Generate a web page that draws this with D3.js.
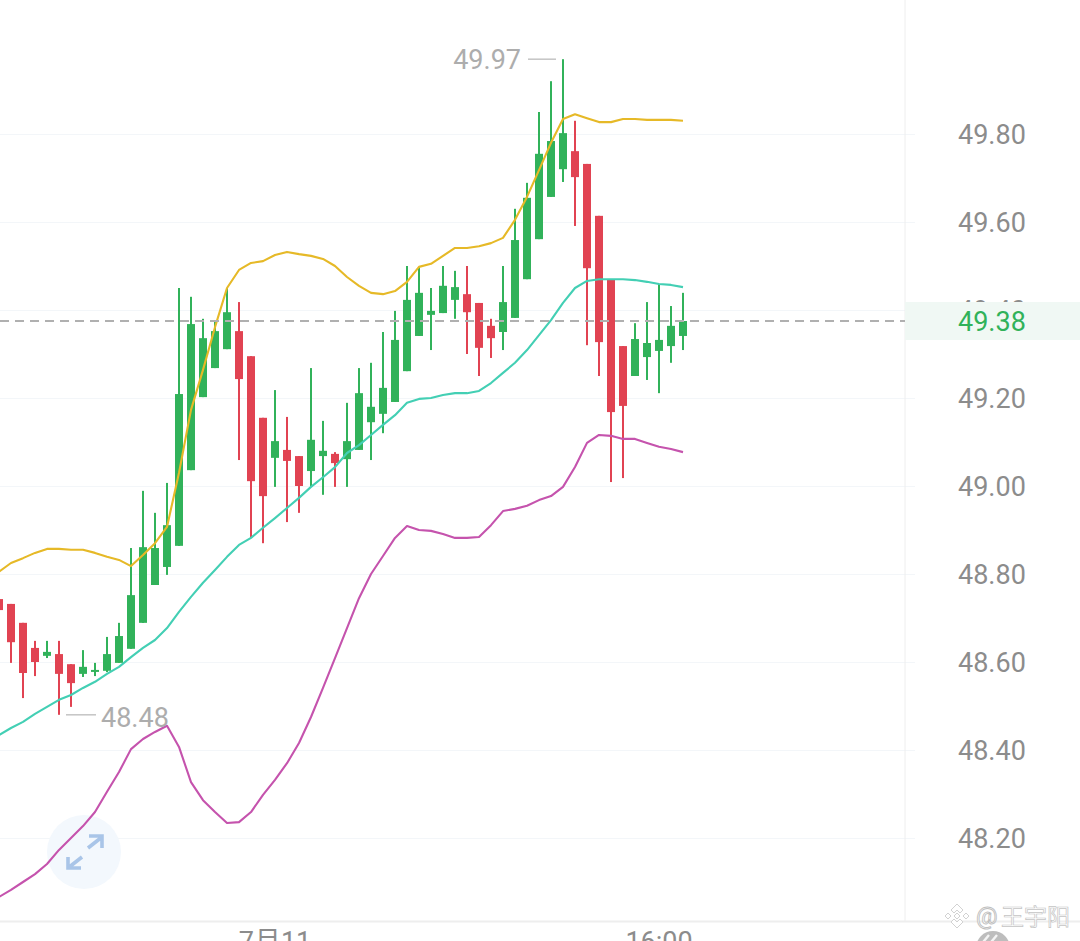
<!DOCTYPE html>
<html lang="zh">
<head>
<meta charset="utf-8">
<title>K线图</title>
<script src="https://cdn.jsdelivr.net/npm/d3@7/dist/d3.min.js"></script>
<style>
  html, body { margin: 0; padding: 0; background: #fff; overflow: hidden; }
  svg { display: block; font-family: Roboto, "Noto Sans", sans-serif; }
</style>
</head>
<body>
<svg id="chart" width="1080" height="941"></svg>
<script>
// Candles, oldest first
const opens = [48.743,48.732,48.689,48.632,48.614,48.618,48.595,48.573,48.580,48.580,48.598,48.630,48.689,48.775,48.816,48.864,49.036,49.202,49.268,49.311,49.352,49.295,49.155,49.064,49.082,49.068,49.034,49.068,49.073,49.061,49.082,49.145,49.164,49.191,49.261,49.341,49.389,49.393,49.423,49.436,49.416,49.364,49.350,49.382,49.470,49.561,49.657,49.720,49.761,49.732,49.614,49.470,49.318,49.250,49.293,49.307,49.318,49.341];
const highs = [48.743,48.732,48.689,48.648,48.648,48.648,48.595,48.627,48.598,48.657,48.689,48.859,48.989,48.939,49.007,49.450,49.430,49.380,49.377,49.450,49.418,49.295,49.155,49.218,49.157,49.068,49.268,49.148,49.077,49.189,49.268,49.280,49.350,49.398,49.500,49.498,49.450,49.500,49.489,49.500,49.416,49.380,49.500,49.630,49.689,49.850,49.920,49.970,49.830,49.732,49.614,49.470,49.318,49.370,49.418,49.459,49.409,49.439];
const lows = [48.718,48.598,48.518,48.568,48.609,48.480,48.498,48.566,48.568,48.577,48.598,48.630,48.689,48.775,48.798,48.864,49.036,49.202,49.268,49.311,49.059,48.882,48.870,48.998,48.918,48.939,48.998,48.980,48.998,48.998,49.082,49.059,49.120,49.191,49.261,49.341,49.309,49.393,49.380,49.300,49.250,49.291,49.309,49.382,49.470,49.561,49.657,49.691,49.591,49.320,49.250,49.009,49.018,49.250,49.241,49.211,49.280,49.309];
const closes = [48.718,48.645,48.575,48.600,48.623,48.573,48.552,48.589,48.582,48.618,48.659,48.752,48.861,48.859,48.911,49.209,49.368,49.336,49.352,49.395,49.243,49.011,48.977,49.102,49.057,49.000,49.105,49.080,49.052,49.102,49.211,49.180,49.223,49.332,49.423,49.439,49.398,49.455,49.452,49.395,49.314,49.336,49.418,49.559,49.655,49.755,49.784,49.802,49.702,49.495,49.327,49.168,49.182,49.334,49.325,49.332,49.364,49.375];

// Bollinger bands at each candle
const upperBand = [48.805,48.825,48.836,48.848,48.857,48.857,48.855,48.855,48.848,48.839,48.832,48.818,48.843,48.870,48.907,49.030,49.173,49.264,49.361,49.450,49.491,49.507,49.511,49.525,49.532,49.527,49.523,49.516,49.500,49.475,49.455,49.439,49.436,49.443,49.464,49.498,49.505,49.523,49.541,49.541,49.545,49.552,49.564,49.605,49.657,49.718,49.780,49.834,49.845,49.836,49.827,49.827,49.834,49.834,49.832,49.832,49.832,49.830];
const middleBand = [48.434,48.450,48.464,48.482,48.498,48.514,48.525,48.541,48.555,48.573,48.589,48.611,48.632,48.650,48.677,48.714,48.748,48.780,48.809,48.839,48.866,48.882,48.905,48.927,48.950,48.973,48.998,49.020,49.043,49.075,49.093,49.116,49.139,49.161,49.189,49.198,49.200,49.207,49.211,49.211,49.216,49.234,49.257,49.280,49.309,49.343,49.377,49.416,49.450,49.466,49.470,49.470,49.470,49.468,49.464,49.459,49.457,49.452];
const lowerBand = [48.066,48.082,48.100,48.118,48.141,48.173,48.200,48.227,48.259,48.305,48.350,48.402,48.425,48.441,48.455,48.407,48.327,48.286,48.259,48.234,48.236,48.259,48.298,48.332,48.370,48.416,48.475,48.541,48.609,48.677,48.745,48.800,48.841,48.882,48.909,48.900,48.898,48.891,48.882,48.882,48.884,48.911,48.943,48.948,48.955,48.968,48.977,48.998,49.043,49.098,49.116,49.114,49.107,49.107,49.098,49.089,49.084,49.077];

// Axis labels
const priceTicks = [48.2,48.4,48.6,48.8,49.0,49.2,49.4,49.6,49.8];
const timeTickIndex = [23, 55];
const timeTickLabels = ["7月11", "16:00"];

const colors = {
  up: "#31b25a", down: "#e14352",
  upper: "#e6b927", middle: "#43cfb4", lower: "#c553ad",
  grid: "#f3f6f9", frame: "#eeeeee", axisText: "#8c8c8c", extreme: "#adadad", dash: "#b0b0b0"
};

const svg = d3.select("#chart");
const fmt = d3.format(".2f");

const x = d3.scaleLinear().domain([0, opens.length - 1]).range([-1, 683]);
const y = d3.scaleLinear().domain([48.2, 49.8]).range([838, 134]);

// Horizontal grid, running just past the price-axis divider
svg.append("g")
  .attr("transform", "translate(915,0)")
  .call(d3.axisLeft(y).tickValues(priceTicks).tickSize(915).tickFormat(""))
  .call(g => g.select(".domain").remove())
  .call(g => g.selectAll("line").attr("stroke", colors.grid).attr("stroke-width", 1));

// Price axis divider and time-axis baseline
svg.append("line").attr("x1", 905).attr("x2", 905).attr("y1", 0).attr("y2", 921)
  .attr("stroke", colors.frame);
svg.append("line").attr("x1", 0).attr("x2", 1080).attr("y1", 921.5).attr("y2", 921.5)
  .attr("stroke", colors.frame).attr("stroke-width", 2);

// Price labels
svg.append("g")
  .attr("transform", "translate(905,0)")
  .call(d3.axisRight(y).tickValues(priceTicks).tickSize(0).tickPadding(53).tickFormat(fmt))
  .call(g => g.select(".domain").remove())
  .call(g => g.selectAll("text")
    .attr("fill", colors.axisText).attr("dy", "0.36em")
    .style("font-family", "Roboto, sans-serif").style("font-size", "27px"));

// Time labels, cut off by the lower edge of the screen
svg.append("g").selectAll("text").data(timeTickIndex).join("text")
  .attr("x", d => x(d))
  .attr("y", 951)
  .attr("text-anchor", "middle")
  .attr("fill", colors.axisText)
  .style("font-size", "27px")
  .style("font-family", "Roboto, 'Noto Sans CJK SC', sans-serif")
  .text((d, i) => timeTickLabels[i]);

// Expand button
const expand = svg.append("g");
expand.append("circle").attr("cx", 84).attr("cy", 852).attr("r", 37).attr("fill", "#f3f8fd");
expand.append("path")
  .attr("d", "M88 848L102 837M89 836H102V848M82 857L68 868M68 857V868H81")
  .attr("fill", "none").attr("stroke", "#a9c5e8").attr("stroke-width", 3.6);

// Candlesticks
const indices = d3.range(opens.length);
const isUp = i => closes[i] >= opens[i];
const candles = svg.append("g").selectAll("g").data(indices).join("g")
  .attr("fill", i => isUp(i) ? colors.up : colors.down);
candles.append("rect")
  .attr("x", i => x(i) - 1).attr("width", 2)
  .attr("y", i => y(highs[i]))
  .attr("height", i => y(lows[i]) - y(highs[i]));
candles.append("rect")
  .attr("x", i => x(i) - 4).attr("width", 8)
  .attr("y", i => y(Math.max(opens[i], closes[i])))
  .attr("height", i => Math.max(2, Math.abs(y(opens[i]) - y(closes[i]))));

// Bands
const bandLine = d3.line().x((d, i) => x(i)).y(d => y(d));
[[upperBand, colors.upper], [middleBand, colors.middle], [lowerBand, colors.lower]].forEach(([vals, c]) => {
  svg.append("path").attr("d", bandLine(vals))
    .attr("fill", "none").attr("stroke", c).attr("stroke-width", 2.1).attr("stroke-linejoin", "round");
});

// Last-price line and highlighted label
const lastPrice = closes[closes.length - 1];
svg.append("line").attr("x1", 0).attr("x2", 905)
  .attr("y1", y(lastPrice)).attr("y2", y(lastPrice))
  .attr("stroke", colors.dash).attr("stroke-width", 2).attr("stroke-dasharray", "9 6");
svg.append("rect").attr("x", 905).attr("width", 175)
  .attr("y", y(lastPrice) - 19).attr("height", 38).attr("fill", "#f0f8f4");
svg.append("text").attr("x", 958).attr("y", y(lastPrice)).attr("dy", "0.36em")
  .attr("fill", colors.up).style("font-size", "27px").text(fmt(lastPrice));

// High and low callouts
const hiVal = d3.max(highs), loVal = d3.min(lows);
const hiIdx = highs.indexOf(hiVal), loIdx = lows.indexOf(loVal);
svg.append("line").attr("x1", x(hiIdx) - 35).attr("x2", x(hiIdx) - 7)
  .attr("y1", y(hiVal)).attr("y2", y(hiVal)).attr("stroke", "#c4c4c4").attr("stroke-width", 1.5);
svg.append("text").attr("x", x(hiIdx) - 42).attr("y", y(hiVal)).attr("dy", "0.36em")
  .attr("text-anchor", "end").attr("fill", colors.extreme).style("font-size", "27px").text(fmt(hiVal));
svg.append("line").attr("x1", x(loIdx) + 7).attr("x2", x(loIdx) + 37)
  .attr("y1", y(loVal)).attr("y2", y(loVal)).attr("stroke", "#c4c4c4").attr("stroke-width", 1.5);
svg.append("text").attr("x", x(loIdx) + 42).attr("y", y(loVal) + 2).attr("dy", "0.36em")
  .attr("fill", colors.extreme).style("font-size", "27px").text(fmt(loVal));

// Scroll-to-latest button at the bottom edge
svg.append("circle").attr("cx", 993).attr("cy", 948).attr("r", 17).attr("fill", "#bdbdbd");
svg.append("path").attr("d", "M989 935L984 941L989 947M997 935L992 941L997 947")
  .attr("fill", "none").attr("stroke", "#f4f4f4").attr("stroke-width", 2.4);

// Author watermark
const mark = svg.append("g");
mark.selectAll("path").data([
  "M957 904L963 910L960 913L957 910L954 913L951 910Z",
  "M945 916L948 913L951 916L948 919Z",
  "M963 916L966 913L969 916L966 919Z",
  "M957 913L960 916L957 919L954 916Z",
  "M951 922L954 919L957 922L960 919L963 922L957 928Z"
]).join("path").attr("d", d => d)
  .attr("fill", "#ffffff").attr("stroke", "#d2d2d2").attr("stroke-width", 1);
mark.append("text").attr("x", 976).attr("y", 924).attr("fill", "#fff")
  .attr("stroke", "#bfbfbf").attr("stroke-width", 0.9)
  .style("font-size", "24px").text("@");
mark.append("text").attr("x", 1001).attr("y", 925).attr("fill", "#fff")
  .attr("stroke", "#c4c4c4").attr("stroke-width", 0.7)
  .style("font-family", "'Noto Sans CJK SC', sans-serif").style("font-size", "23px").text("王宇阳");
</script>
</body>
</html>
